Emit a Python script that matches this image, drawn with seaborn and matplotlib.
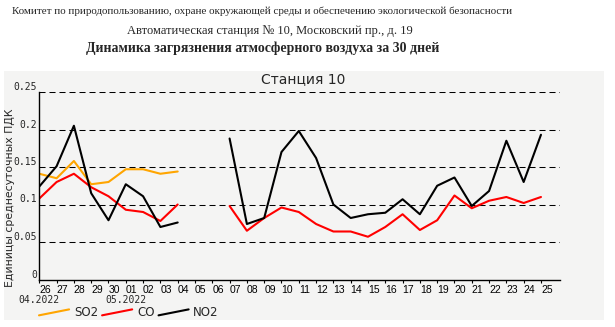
import numpy as np
import pandas as pd
import matplotlib
matplotlib.use("Agg")
import matplotlib.pyplot as plt
from matplotlib.patches import Rectangle
from matplotlib.legend_handler import HandlerLine2D
import seaborn as sns

# Daily averages, fraction of the daily MPC (ПДК), 26.04.2022 – 25.05.2022
days = ["26", "27", "28", "29", "30", "01", "02", "03", "04", "05", "06", "07",
        "08", "09", "10", "11", "12", "13", "14", "15", "16", "17", "18", "19",
        "20", "21", "22", "23", "24", "25"]
month_labels = ["04.2022", "05.2022"]
month_starts = [0, 5]

so2 = [0.141, 0.135, 0.158, 0.127, 0.130, 0.147, 0.147, 0.141, 0.144,
       None, None, None, None, None, None, None, None, None, None, None,
       None, None, None, None, None, None, None, None, None, None]
co = [0.108, 0.130, 0.141, 0.123, 0.111, 0.093, 0.090, 0.078, 0.100,
      None, None, 0.098, 0.065, 0.082, 0.096, 0.090, 0.074, 0.064, 0.064,
      0.057, 0.070, 0.087, 0.066, 0.079, 0.112, 0.095, 0.105, 0.110, 0.102,
      0.110]
no2 = [0.124, 0.151, 0.205, 0.115, 0.079, 0.127, 0.111, 0.070, 0.076,
       None, None, 0.188, 0.074, 0.082, 0.170, 0.198, 0.162, 0.100, 0.082,
       0.087, 0.089, 0.107, 0.087, 0.125, 0.136, 0.098, 0.118, 0.185, 0.130,
       0.193]

series_names = ["SO2", "CO", "NO2"]
series_colors = ["#ffa500", "#ff0000", "#000000"]

# long format; days without measurements split a series into separate runs
frames = []
for name, vals in zip(series_names, [so2, co, no2]):
    s = pd.Series(vals, dtype=float)
    run = s.isna().cumsum()
    frames.append(pd.DataFrame({"day": np.arange(len(days)), "value": s,
                                "series": name, "run": run}).dropna())
long = pd.concat(frames, ignore_index=True)

sns.set_theme(style="white")
plt.rcParams["font.family"] = ["DejaVu Sans"]

W, H = 615, 327
fig = plt.figure(figsize=(W / 100, H / 100), dpi=100)
fig.patch.set_facecolor("white")

# grey chart panel
fig.add_artist(Rectangle((4 / W, 1 - 320 / H), (604 - 4) / W, (320 - 71) / H,
                         transform=fig.transFigure, facecolor="#f4f4f3",
                         edgecolor="none", zorder=0))

ax_l, ax_r, ax_t, ax_b = 39.3, 560.0, 92.0, 279.5
ax = fig.add_axes([ax_l / W, 1 - ax_b / H, (ax_r - ax_l) / W, (ax_b - ax_t) / H])
ax.set_facecolor("none")

sns.lineplot(data=long, x="day", y="value", hue="series",
             hue_order=series_names, palette=series_colors, units="run",
             estimator=None, linewidth=1.5, ax=ax, legend=False)

ax.set_xlim(0, 30.1)
ax.set_ylim(0, 0.25)

yt = [0, 0.05, 0.1, 0.15, 0.2, 0.25]
ax.set_yticks(yt)
ax.set_yticklabels(["0", "0.05", "0.1", "0.15", "0.2", "0.25"],
                   fontfamily="DejaVu Sans Mono", fontsize=7, va="bottom")
ax.tick_params(axis="y", length=0, pad=1.5)

for v in yt[1:]:
    ax.axhline(v, color="black", lw=0.75, ls=(0, (5.8, 3.8)), zorder=1)

ax.set_xticks(np.arange(len(days)))
ax.set_xticklabels(days, ha="left", fontsize=7.5, fontfamily="Liberation Sans")
ax.tick_params(axis="x", length=2.2, width=0.8, pad=1.5, colors="black",
               direction="out", bottom=True)

for s in ["top", "right"]:
    ax.spines[s].set_visible(False)
for s in ["left", "bottom"]:
    ax.spines[s].set_color("black")
    ax.spines[s].set_linewidth(1.0)

ax.set_xlabel("")
ax.set_ylabel("")

# month markers under the day labels
for lab, pos in zip(month_labels, month_starts):
    ax.annotate(lab, xy=(pos, 0), xycoords=("data", "axes fraction"),
                xytext=(0, -(300 - ax_b) * 0.72), textcoords="offset points",
                ha="center", va="center", fontsize=7,
                fontfamily="DejaVu Sans Mono")

fig.text(9.5 / W, 1 - 198 / H, "Единицы среднесуточных ПДК", rotation=90,
         ha="center", va="center", fontsize=7.8)

fig.text(303 / W, 1 - 79.5 / H, "Станция 10", ha="center", va="center",
         fontsize=10)

# page headings
fig.text(262 / W, 1 - 11.5 / H,
         "Комитет по природопользованию, охране окружающей среды и обеспечению экологической безопасности",
         ha="center", va="center", fontsize=7.9, fontfamily="Liberation Serif")
fig.text(270 / W, 1 - 31 / H, "Автоматическая станция № 10, Московский пр., д. 19",
         ha="center", va="center", fontsize=9.0, fontfamily="Liberation Serif")
fig.text(263 / W, 1 - 48 / H, "Динамика загрязнения атмосферного воздуха за 30 дней",
         ha="center", va="center", fontsize=10, fontweight="bold",
         fontfamily="Liberation Serif")


class SlantedLineHandler(HandlerLine2D):
    def create_artists(self, legend, orig_handle, xdescent, ydescent, width,
                       height, fontsize, trans):
        artists = super().create_artists(legend, orig_handle, xdescent,
                                         ydescent, width, height, fontsize, trans)
        line = artists[0]
        xd = line.get_xdata()
        mid = (height - ydescent) / 2
        line.set_ydata(np.linspace(mid - 0.36 * height, mid + 0.36 * height, len(xd)))
        return artists


# one representative line per pollutant for the legend
handles = []
for name, color in zip(series_names, series_colors):
    for ln in ax.get_lines():
        if matplotlib.colors.to_hex(ln.get_color()) == color:
            handles.append(ln)
            break

leg = fig.legend(handles, series_names, loc="center left",
                 bbox_to_anchor=(39 / W, 1 - 313 / H), ncol=3, frameon=False,
                 fontsize=8.5, handlelength=2.55, handletextpad=0.4,
                 columnspacing=0.35, borderpad=0, borderaxespad=0,
                 handler_map={l: SlantedLineHandler() for l in handles})

fig.savefig("out.png", dpi=100, facecolor="white")
